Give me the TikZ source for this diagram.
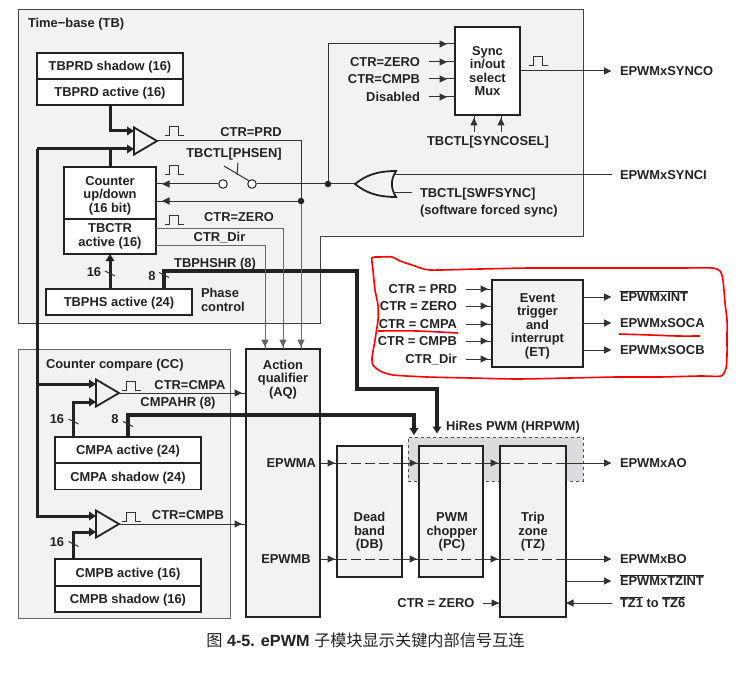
\documentclass[tikz,border=0pt]{standalone}
\usepackage{fontspec}
\setmainfont{Liberation Sans}
\newfontfamily\cjk{Noto Sans CJK SC}
\usetikzlibrary{arrows.meta,decorations.markings,shapes.geometric}
\definecolor{ink}{HTML}{222222}
\definecolor{wireink}{HTML}{333333}
\definecolor{wiregray}{HTML}{666666}
\definecolor{panelgray}{HTML}{F2F2F2}
\definecolor{hrgray}{HTML}{DCDCDE}
\newcommand{\lblfont}{\fontsize{12.9}{13.5}\selectfont\bfseries}
\tikzset{
  sigtip/.tip={Triangle[length=7.5pt,width=7pt]},
  thicktip/.tip={Triangle[length=7pt,width=8.5pt]},
  wire/.style={draw=wireink,line width=1pt},
  grayline/.style={draw=wiregray,line width=1pt},
  bus/.style={draw=ink,line width=3pt},
  hrbus/.style={draw=ink,line width=3.6pt},
  tip/.style={postaction={decorate},decoration={markings,mark=at position -#1pt with {\arrow{sigtip}}}},
  panel/.style={draw=ink!85,fill=panelgray,line width=0.8pt},
  capline/.style={text height=9.3pt,text depth=0pt},
  lbl/.style={font=\lblfont,text=ink,inner sep=0pt,outer sep=0pt,capline},
  siglbl/.style={lbl,inner xsep=8.5pt},
  multilbl/.style={font=\lblfont,text=ink,inner sep=0pt,outer sep=0pt,align=center},
  block/.style={draw=ink,fill=white,line width=1.8pt,font=\lblfont,text=ink,inner sep=0pt,outer sep=0pt,align=center},
  oneline/.style={block,capline},
  grayblock/.style={block,fill=panelgray},
  cmp/.style={isosceles triangle,isosceles triangle stretches,draw=ink,fill=panelgray,line width=1.8pt,inner sep=0pt,outer sep=0pt,minimum width=27,minimum height=23},
  dot/.style={circle,fill=ink,inner sep=0pt,minimum size=6.5},
  swpin/.style={circle,draw=ink,fill=white,line width=1pt,inner sep=0pt,minimum size=8.5},
  redmark/.style={draw=red,line width=1.6pt},
  pulse/.pic={\draw[wire] (0,0) -- (4.7,0) -- (4.7,-9) -- (13.7,-9) -- (13.7,0) -- (18.5,0);},
  slash/.pic={\draw[wire] (-5,-2.5) -- (5,2.5);}
}
\begin{document}
\begin{tikzpicture}[x=1pt,y=-1pt]
\useasboundingbox (0,0) rectangle (742,674);
\draw[panel] (18,9.5) -- (583,9.5) -- (583,236) -- (320,236) -- (320,323) -- (18,323) -- cycle;
\node[panel,draw=wiregray,minimum width=212,minimum height=269,inner sep=0pt,outer sep=0pt] (ccpanel) at (124,483.5) {};
\node[draw=ink!80,dashed,fill=hrgray,line width=0.8pt,minimum width=175,minimum height=44,inner sep=0pt,outer sep=0pt] (hrpwm) at (495.5,459) {};

\node[lbl,anchor=west] (tbtitle) at (28,23) {Time−base (TB)};
\node[lbl,anchor=west] (cctitle) at (46,364) {Counter compare (CC)};
\node[lbl,anchor=west] (hrtitle) at (446,426) {HiRes PWM (HRPWM)};

\node[oneline,minimum width=146,minimum height=26] (tbprdshadow) at (110,66) {TBPRD shadow (16)};
\node[oneline,minimum width=146,minimum height=26] (tbprdactive) at (110,92) {TBPRD active (16)};
\node[block,minimum width=92,minimum height=52] (counter) at (110,193) {};
\node[multilbl] (countertext) at (110,195.5) {Counter\\up/down\\(16 bit)};
\node[block,minimum width=92,minimum height=35] (tbctr) at (110,236.5) {TBCTR\\active (16)};
\node[oneline,minimum width=146,minimum height=26] (tbphs) at (119,302) {TBPHS active (24)};
\node[multilbl,anchor=west,align=left] (phase) at (201,300) {Phase\\control};
\node[block,minimum width=65,minimum height=88] (mux) at (487.5,71) {Sync\\in/out\\select\\Mux};
\node[oneline,minimum width=146,minimum height=26] (cmpaactive) at (128,450) {CMPA active (24)};
\node[oneline,minimum width=146,minimum height=26] (cmpashadow) at (128,476.5) {CMPA shadow (24)};
\node[oneline,minimum width=146,minimum height=27] (cmpbactive) at (128,572.5) {CMPB active (16)};
\node[oneline,minimum width=146,minimum height=26] (cmpbshadow) at (128,599) {CMPB shadow (16)};
\node[grayblock,minimum width=91,minimum height=87] (et) at (537.5,323.5) {};
\node[multilbl] (ettext) at (537.5,326) {Event\\trigger\\and\\interrupt\\(ET)};
\node[grayblock,minimum width=74,minimum height=268] (aq) at (283,483) {};
\node[multilbl,anchor=north] (aqtext) at (283,360) {Action\\qualifier\\(AQ)};
\node[lbl,anchor=east] (epwma) at (316,463) {EPWMA};
\node[lbl] (epwmb) at (286,559) {EPWMB};
\node[grayblock,minimum width=65,minimum height=131] (db) at (369.5,511.5) {};
\node[multilbl] (dbtext) at (369.5,532) {Dead\\band\\(DB)};
\node[grayblock,minimum width=64,minimum height=131] (pc) at (451,511.5) {};
\node[multilbl] (pctext) at (452,532) {PWM\\chopper\\(PC)};
\node[grayblock,minimum width=66,minimum height=171] (tz) at (533,531.5) {};
\node[multilbl] (tztext) at (533,532) {Trip\\zone\\(TZ)};

\node[cmp,anchor=apex] (cmpprd) at (157,141) {};
\node[cmp,anchor=apex] (cmpa) at (119,393) {};
\node[cmp,anchor=apex] (cmpb) at (119,524) {};

\coordinate (bustop) at (37,149);
\coordinate (busa) at (37,384);
\draw[bus] (counter.north) -- (counter.north |- bustop);
\draw[bus,-{thicktip}] (bustop) -- (cmpprd.west |- bustop);
\draw[bus,-{thicktip}] (bustop) |- (cmpb.west |- 0,516);
\draw[bus,-{thicktip}] (busa) -- (cmpa.west |- busa);
\draw[bus,-{thicktip}] (tbprdactive.south) |- (cmpprd.west |- 0,131);
\draw[bus,-{thicktip}] (tbphs.north -| counter.south) -- (counter.south |- tbctr.south);
\draw[bus,-{thicktip}] (cmpaactive.north -| 73,0) |- (cmpa.west |- 0,402);
\draw[bus,-{thicktip}] (cmpbactive.north -| 73,0) |- (cmpb.west |- 0,532);
\coordinate (hrina) at (437,433.5);
\coordinate (hrinb) at (414,435);
\draw[hrbus,-{thicktip}] (tbphs.north -| 164,0) |- (357,271) -- (357,389) -- (437,389) -- (hrina);
\draw[hrbus,-{thicktip}] (cmpaactive.north -| 128,0) |- (414,415) -- (hrinb);

\node[dot] (dotprd) at (301,201) {};
\node[dot] (dotsync) at (328,184) {};
\node[swpin] (swa) at (223,184) {};
\node[swpin] (swb) at (252,184) {};
\coordinate (swarm) at (224,166);
\coordinate (swtop) at (238,162.5);
\coordinate (swmid) at (237,175);
\draw[wire] (swarm) -- (swb.north west);
\draw[wire] (swtop) -- (swmid);
\draw[wire,tip=6] (swa.west) -- (counter.east |- swa);
\draw[wire,tip=6] (dotprd) -- (counter.east |- dotprd);
\draw[wire] (dotsync) -- (swb.east);
\draw[wire,tip=8] (dotsync) |- (mux.west |- 0,44);

\draw[wire] (cmpprd.apex) -| (dotprd);
\draw[grayline,tip=2] (dotprd) -- (dotprd |- aq.north);
\draw[grayline,tip=2] (tbctr.east |- 0,228) -| (283,349);
\draw[grayline,tip=2] (tbctr.east |- 0,245) -| (265,349);
\draw[wire,tip=4] (cmpa.apex) -- (aq.west |- cmpa.apex);
\draw[wire,tip=4] (cmpb.apex) -- (aq.west |- cmpb.apex);

\coordinate (ortip) at (355,184);
\coordinate (ortop) at (396,171);
\coordinate (orbot) at (396,197);
\coordinate (orina) at (393,175);
\coordinate (orinb) at (393,193);
\draw[ink,fill=panelgray,line width=1.8pt] (ortip) .. controls (365,176) and (376,171) .. (ortop) .. controls (390.5,180) and (390.5,188) .. (orbot) .. controls (376,197) and (365,192) .. (ortip) -- cycle;
\draw[wire] (dotsync) -- (ortip);

\pic at (165,136) {pulse};
\pic at (165,175) {pulse};
\pic at (165,224) {pulse};
\pic at (122,390) {pulse};
\pic at (122,521) {pulse};
\pic at (529,66) {pulse};

\pic at (110,273.5) {slash};
\pic at (164,275) {slash};
\pic at (73.5,421.5) {slash};
\pic at (128,424) {slash};
\pic at (73.5,544) {slash};

\node[lbl] (ctrprd) at (251,132) {CTR=PRD};
\node[lbl] (phsen) at (234,153) {TBCTL[PHSEN]};
\node[lbl,fill=white] (ctrzero) at (239,217) {CTR=ZERO};
\node[lbl] (ctrdir) at (219.5,237) {CTR\_Dir};
\node[lbl] (tbphshr) at (215,263) {TBPHSHR (8)};
\node[lbl] (tb16) at (94,272) {16};
\node[lbl] (tb8) at (152,276) {8};
\node[lbl] (ctrcmpa) at (190,385) {CTR=CMPA};
\node[lbl] (cmpahr) at (178,402) {CMPAHR (8)};
\node[lbl] (cc16a) at (57,419) {16};
\node[lbl] (cc8) at (115,419) {8};
\node[lbl] (ctrcmpb) at (188,515) {CTR=CMPB};
\node[lbl] (cc16b) at (57,542) {16};

\node[siglbl,anchor=east] (muxzero) at (428.5,62) {CTR=ZERO};
\node[siglbl,anchor=east] (muxcmpb) at (428.5,79) {CTR=CMPB};
\node[siglbl,anchor=east] (muxoff) at (428.5,97) {Disabled};
\draw[wire,tip=8] (muxzero.east) -- (mux.west |- muxzero);
\draw[wire,tip=8] (muxcmpb.east) -- (mux.west |- muxcmpb);
\draw[wire,tip=8] (muxoff.east) -- (mux.west |- muxoff);
\node[lbl,inner ysep=4pt] (syncosel) at (488,141) {TBCTL[SYNCOSEL]};
\draw[wire,tip=3] (syncosel.north -| 474,0) -- (mux.south -| 474,0);
\draw[wire,tip=3] (syncosel.north -| 501,0) -- (mux.south -| 501,0);

\node[siglbl,anchor=west] (synco) at (611.5,71) {EPWMxSYNCO};
\node[siglbl,anchor=west] (synci) at (611.5,175) {EPWMxSYNCI};
\node[siglbl,anchor=west] (swfsync) at (411.5,193) {TBCTL[SWFSYNC]};
\node[lbl,anchor=west] (swforced) at (420,210) {(software forced sync)};
\draw[wire,-{sigtip}] (mux.east |- synco) -- (synco.west);
\draw[wire] (orina) -- (synci.west);
\draw[wire] (orinb) -- (swfsync.west);

\node[siglbl,anchor=east] (etprd) at (465.5,289) {CTR = PRD};
\node[siglbl,anchor=east] (etzero) at (465.5,306) {CTR = ZERO};
\node[siglbl,anchor=east] (etcmpa) at (465.5,324) {CTR = CMPA};
\node[siglbl,anchor=east] (etcmpb) at (465.5,341) {CTR = CMPB};
\node[siglbl,anchor=east] (etdir) at (465.5,359) {CTR\_Dir};
\draw[wire,tip=4] (etprd.east) -- (et.west |- etprd);
\draw[wire,tip=4] (etzero.east) -- (et.west |- etzero);
\draw[wire,tip=4] (etcmpa.east) -- (et.west |- etcmpa);
\draw[wire,tip=4] (etcmpb.east) -- (et.west |- etcmpb);
\draw[wire,tip=4] (etdir.east) -- (et.west |- etdir);
\node[siglbl,anchor=west] (etint) at (611.5,297) {$\overline{\mbox{EPWMxINT}}$};
\node[siglbl,anchor=west] (etsoca) at (611.5,323) {EPWMxSOCA};
\node[siglbl,anchor=west] (etsocb) at (611.5,350) {EPWMxSOCB};
\draw[wire,-{sigtip}] (et.east |- etint) -- (etint.west);
\draw[wire,-{sigtip}] (et.east |- etsoca) -- (etsoca.west);
\draw[wire,-{sigtip}] (et.east |- etsocb) -- (etsocb.west);

\node[siglbl,anchor=west] (outa) at (611.5,463) {EPWMxAO};
\node[siglbl,anchor=west] (outb) at (611.5,559) {EPWMxBO};
\node[siglbl,anchor=west] (tzint) at (611.5,581) {$\overline{\mbox{EPWMxTZINT}}$};
\node[siglbl,anchor=west] (tzin) at (611.5,603) {$\overline{\mbox{TZ1}}$ to $\overline{\mbox{TZ6}}$};
\node[siglbl,anchor=east] (tzzero) at (483,603) {CTR = ZERO};

\draw[wire,tip=2] (aq.east |- outa) -- (db.west |- outa);
\draw[wire,dash pattern=on 10pt off 4pt] (db.west |- outa) -- (db.east |- outa);
\draw[wire,tip=2] (db.east |- outa) -- (pc.west |- outa);
\draw[wire,dash pattern=on 10pt off 4pt] (pc.west |- outa) -- (pc.east |- outa);
\draw[wire,tip=2] (pc.east |- outa) -- (tz.west |- outa);
\draw[wire,dash pattern=on 10pt off 4pt] (tz.west |- outa) -- (tz.east |- outa);
\draw[wire,-{sigtip}] (tz.east |- outa) -- (outa.west);

\draw[wire,tip=2] (aq.east |- outb) -- (db.west |- outb);
\draw[wire,dash pattern=on 10pt off 4pt] (db.west |- outb) -- (db.east |- outb);
\draw[wire,tip=2] (db.east |- outb) -- (pc.west |- outb);
\draw[wire,dash pattern=on 10pt off 4pt] (pc.west |- outb) -- (pc.east |- outb);
\draw[wire,tip=2] (pc.east |- outb) -- (tz.west |- outb);
\draw[wire,dash pattern=on 10pt off 4pt] (tz.west |- outb) -- (tz.east |- outb);
\draw[wire,-{sigtip}] (tz.east |- outb) -- (outb.west);

\draw[wire,-{sigtip}] (tz.east |- tzint) -- (tzint.west);
\draw[wire,-{sigtip}] (tzin.west) -- (tz.east |- tzin);
\draw[wire,tip=1] (tzzero.east) -- (tz.west |- tzzero);

\draw[redmark] plot[smooth cycle,tension=0.4] coordinates {(372,258) (380,257) (392,257) (400,261) (415,266) (430,270) (480,269) (530,268) (580,268) (630,268) (680,268) (712,268) (720,271) (723,280) (725,303) (727,320) (727,337) (727,355) (726,368) (721,376) (700,376) (660,377) (617,377) (570,378) (517,379) (470,378) (427,377) (393,375) (380,371) (373,365) (372,358) (375,340) (378,320) (378,305) (375,290) (373,270)};
\draw[redmark] plot[smooth,tension=0.5] coordinates {(378,331) (417,331) (458,333)};
\draw[redmark] plot[smooth,tension=0.5] coordinates {(619,334) (650,335) (677,336) (700,336)};

\node[lbl,font=\fontsize{16.2}{18}\selectfont] (caption) at (365.5,641.5) {{\cjk 图} \textbf{4-5. ePWM} {\cjk 子模块显示关键内部信号互连}};
\end{tikzpicture}
\end{document}
